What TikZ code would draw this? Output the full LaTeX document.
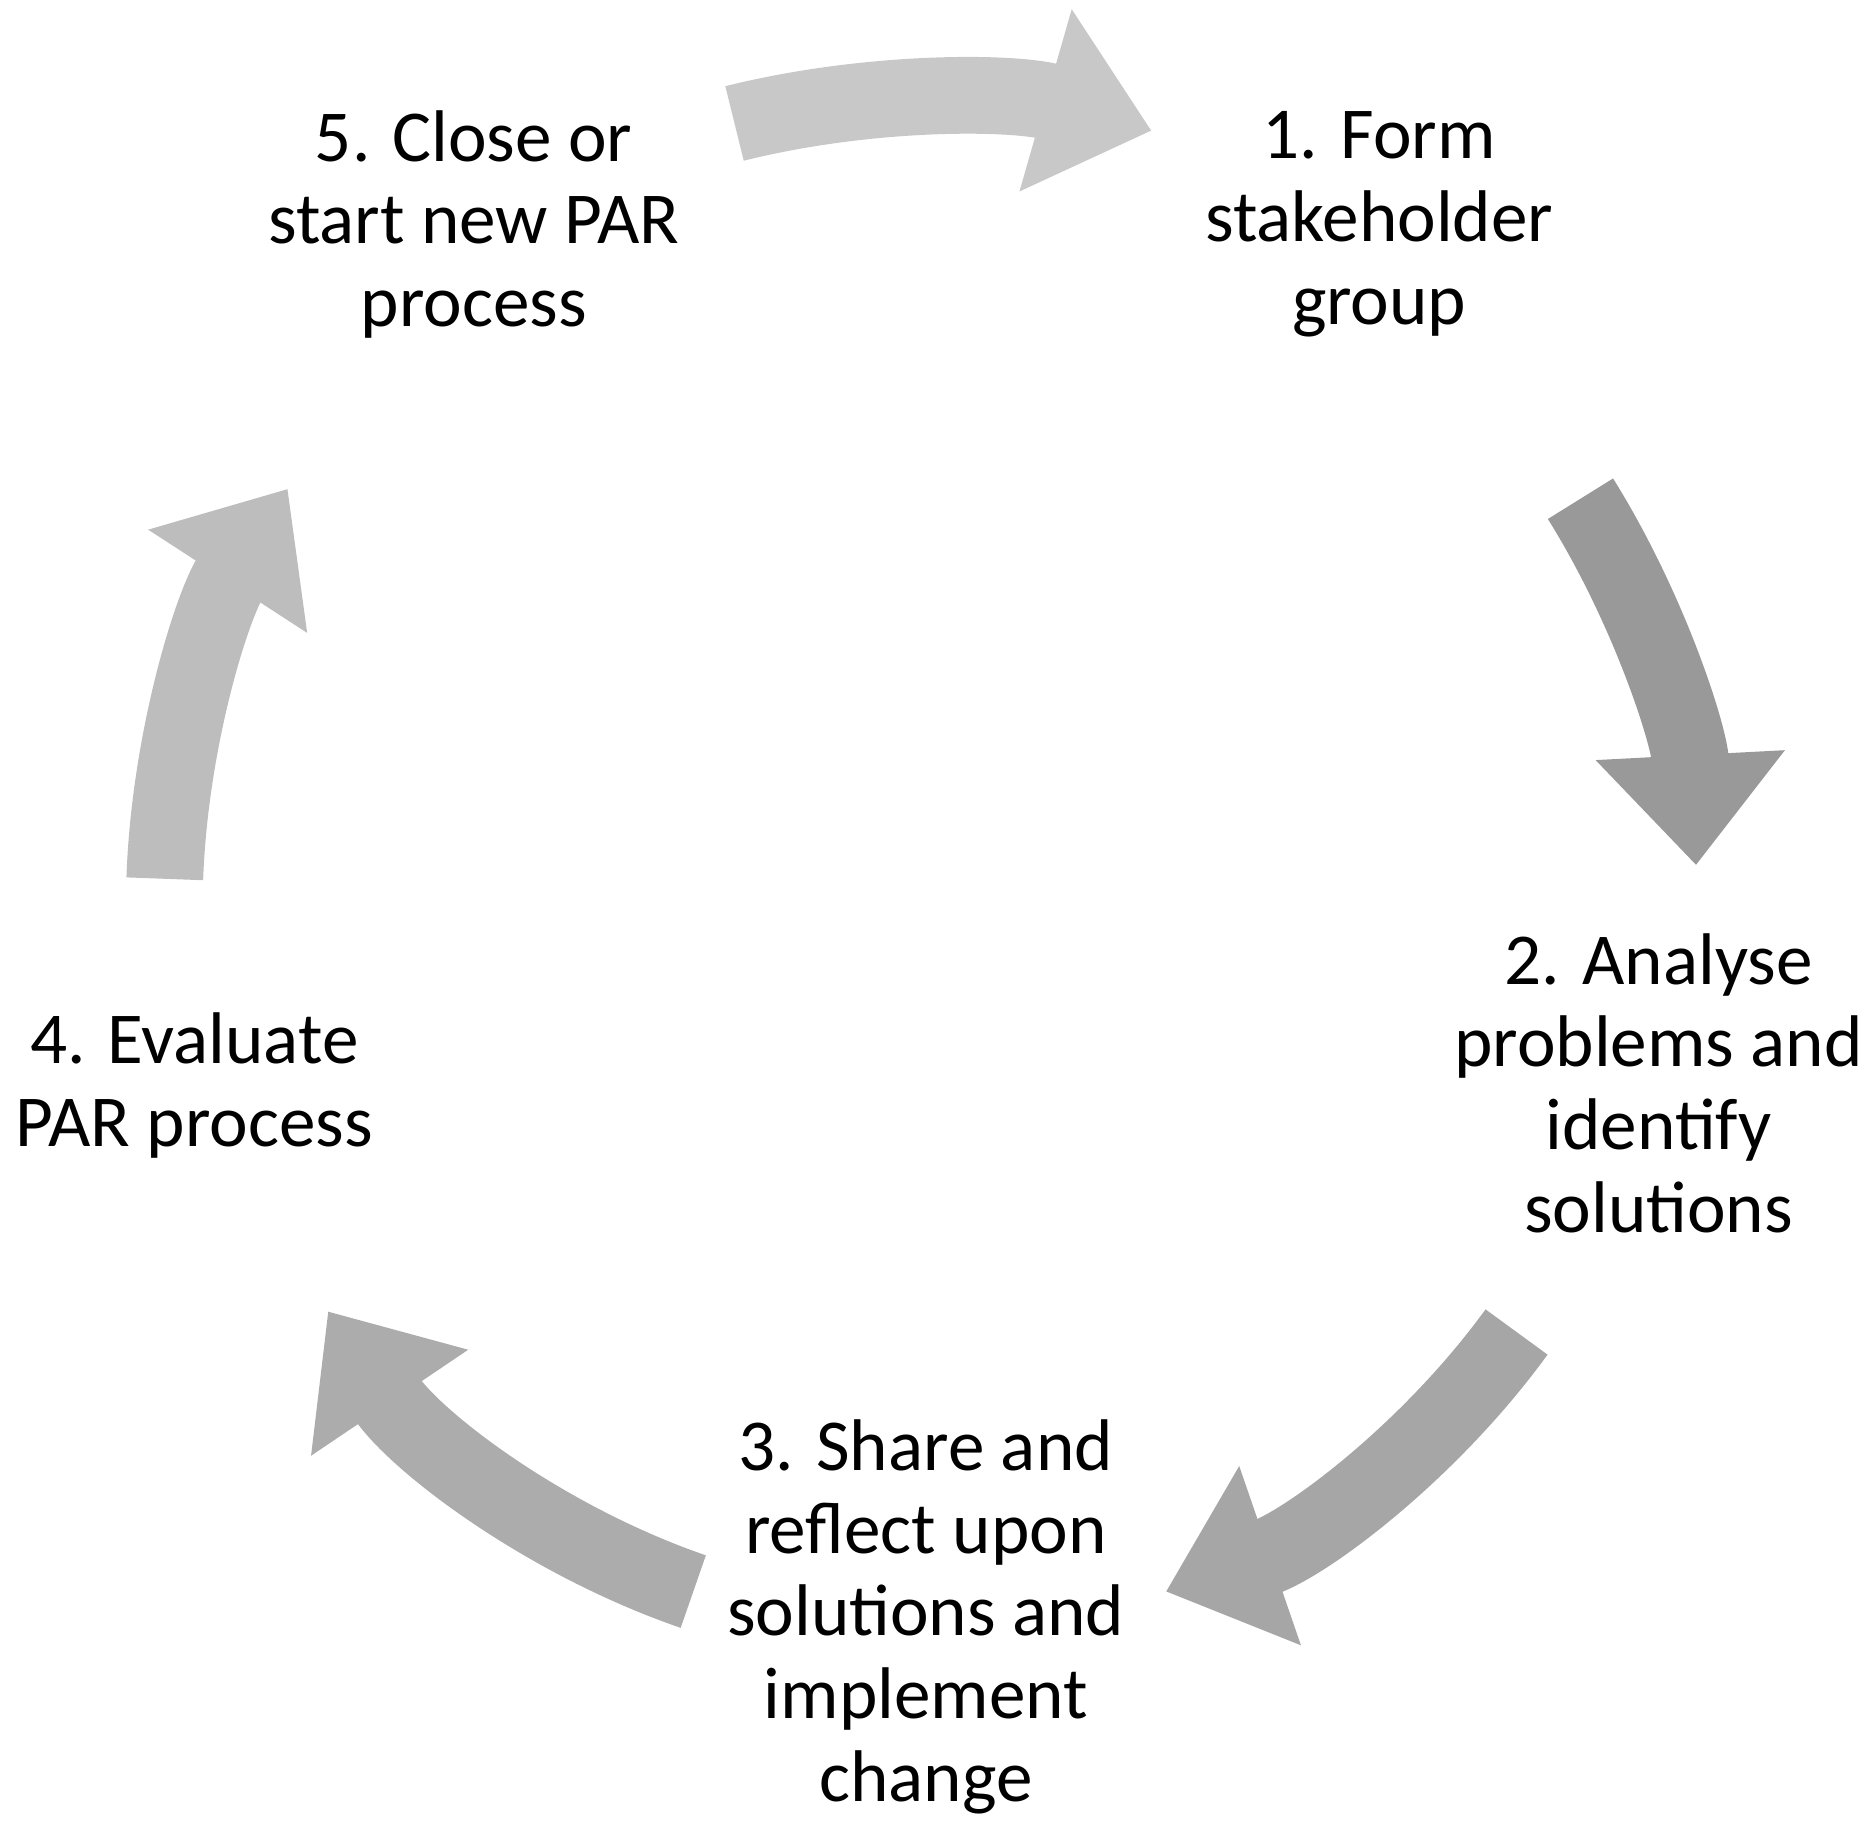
\documentclass[tikz,border=0pt]{standalone}
\usepackage{fontspec}
\setmainfont{Carlito}
\usetikzlibrary{arrows.meta,calc}
\begin{document}
\begin{tikzpicture}[x=0.5pt,y=0.5pt,
  lbl/.style={align=center,font=\fontsize{30.5}{34.5}\selectfont},
  cyc/.style={line width=32pt,-{Triangle[width=76pt,length=46pt]}}]
\useasboundingbox (0,0) rectangle (1560,1521);
\coordinate (c) at (775,766);
\node[lbl] (n5) at (395,1334) {5. Close or\\start new PAR\\process};
\node[lbl] (n1) at (1150,1334) {1. Form\\stakeholder\\group};
\node[lbl] (n2) at (1383,618) {2. Analyse\\problems and\\identify\\solutions};
\node[lbl] (n3) at (772,173) {3. Share and\\reflect upon\\solutions and\\implement\\change};
\node[lbl] (n4) at (162,616) {4. Evaluate\\PAR process};
\draw[cyc,color={rgb,255:red,200;green,200;blue,200}] ($(c)+(104:672)$) arc[start angle=104,end angle=74,radius=336pt];
\draw[cyc,color={rgb,255:red,153;green,153;blue,153}] ($(c)+(32:640)$) arc[start angle=32,end angle=3,radius=320pt];
\draw[cyc,color={rgb,255:red,166;green,166;blue,166}] ($(c)+(-36:605)$) arc[start angle=-36,end angle=-71,radius=302.5pt];
\draw[cyc,color={rgb,255:red,172;green,172;blue,172}] ($(c)+(-109:605)$) arc[start angle=-109,end angle=-146,radius=302.5pt];
\draw[cyc,color={rgb,255:red,189;green,189;blue,189}] ($(c)+(178:638)$) arc[start angle=178,end angle=147,radius=319pt];
\end{tikzpicture}
\end{document}
